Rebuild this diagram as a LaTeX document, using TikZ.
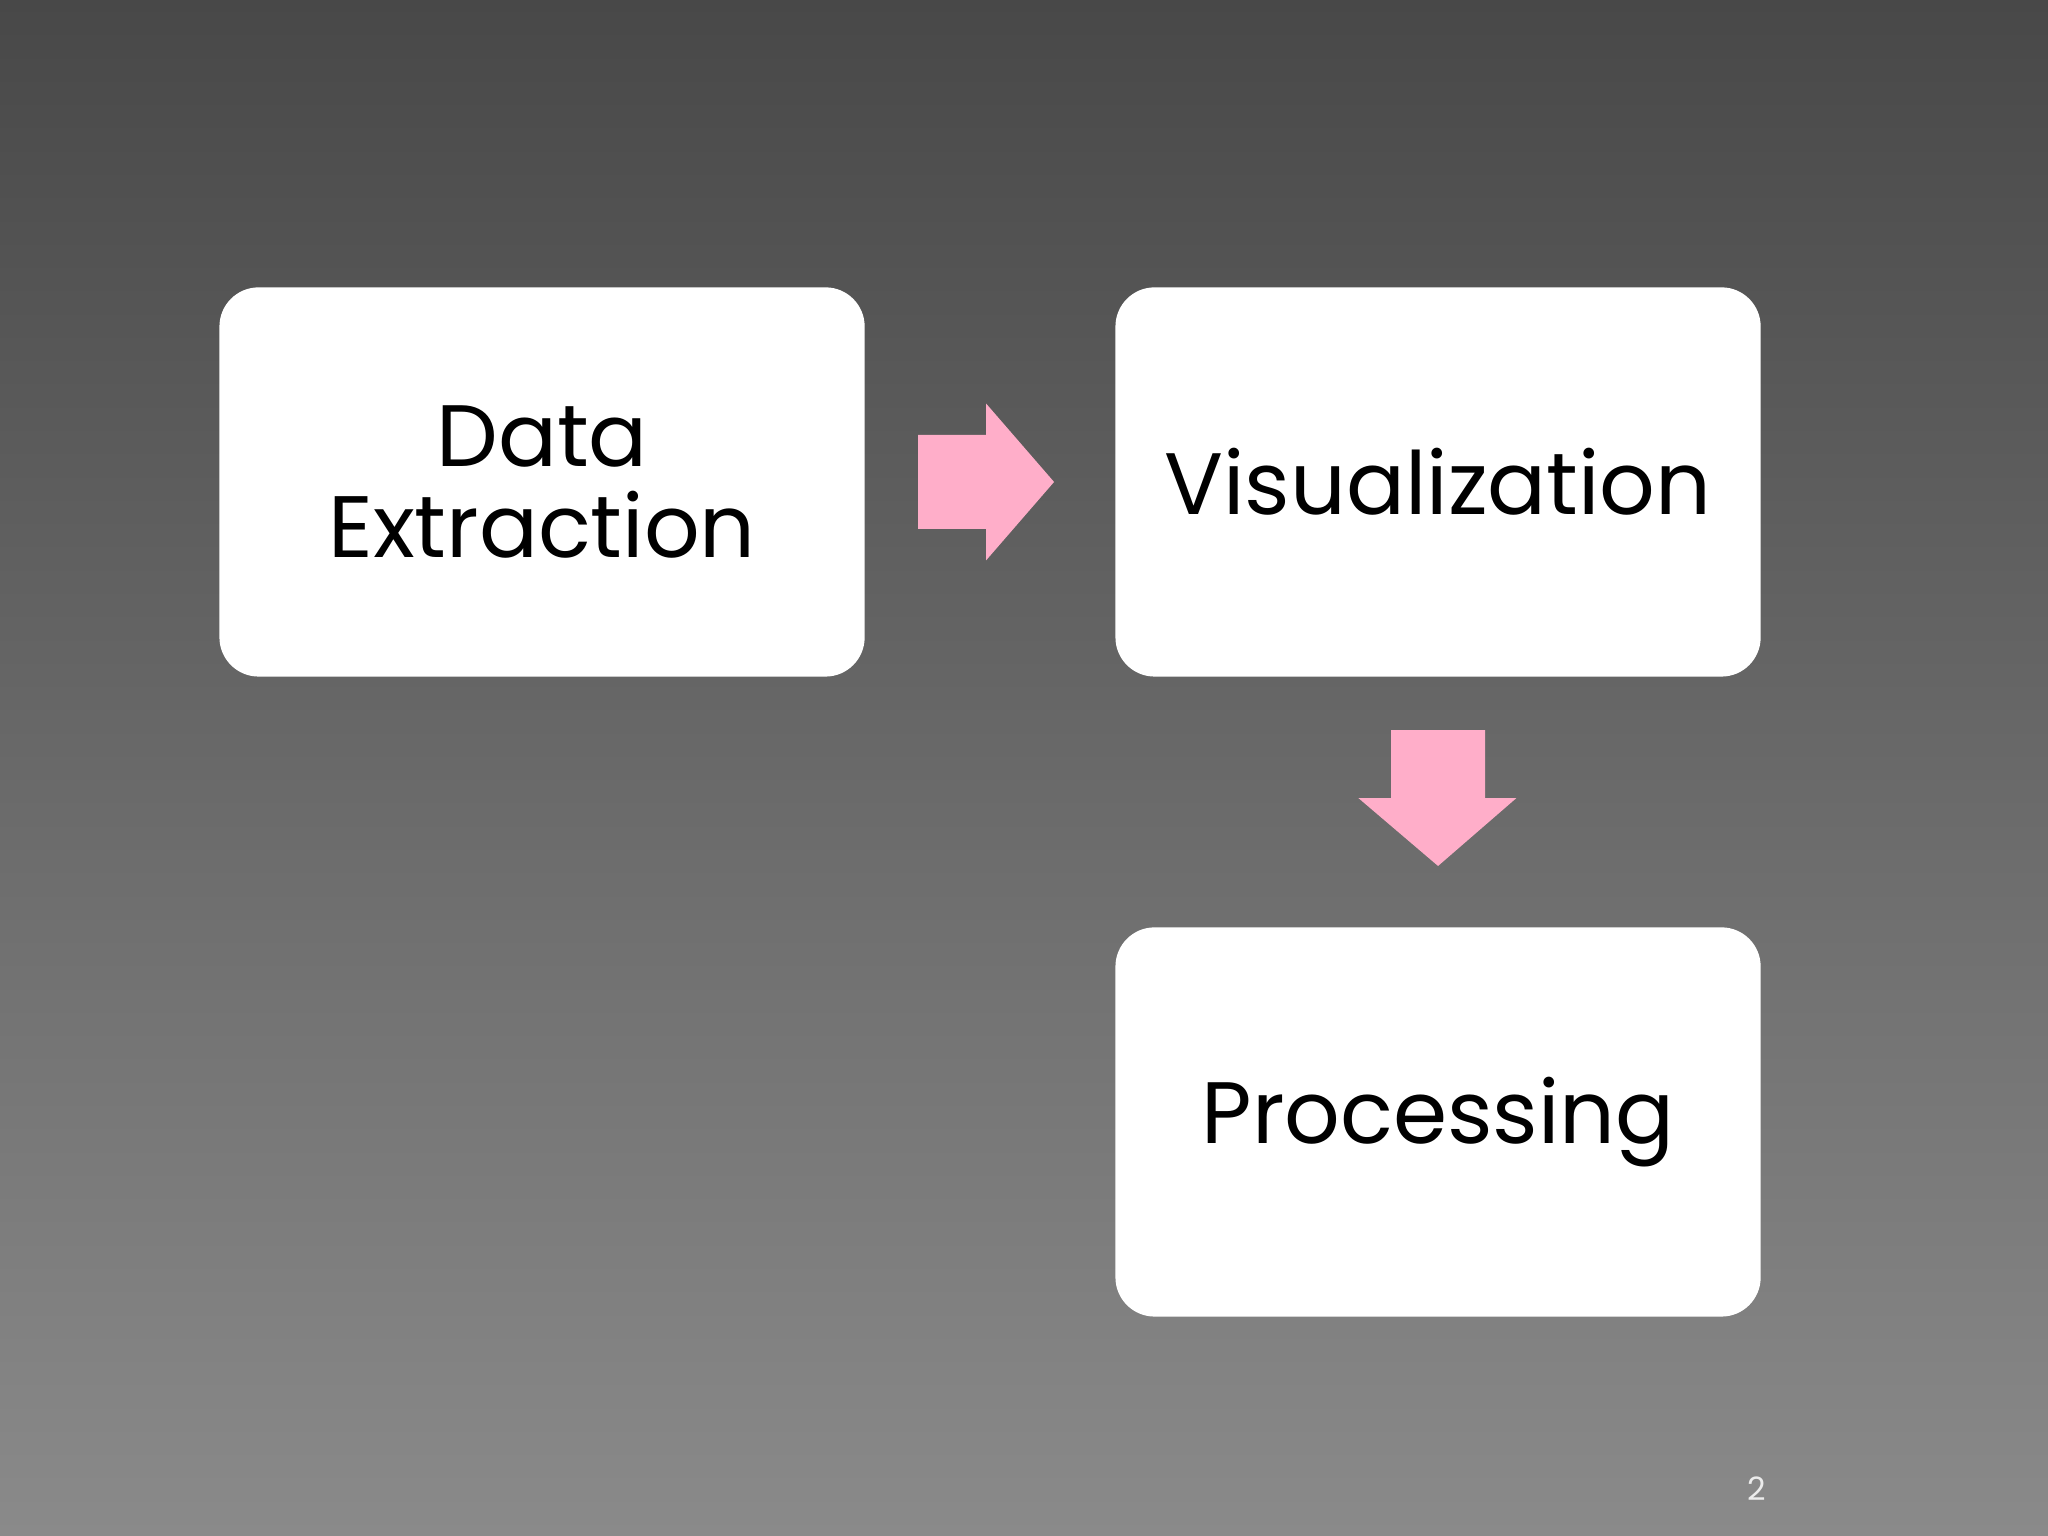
\documentclass[tikz,border=0pt]{standalone}
\usepackage{fontspec}
\setmainfont{Poppins}
\definecolor{pinkar}{HTML}{FFAEC9}
\begin{document}
\begin{tikzpicture}[x=0.02cm,y=-0.02cm,
  box/.style={fill=white,rounded corners=0.6cm,draw=none},
  lbl/.style={font=\fontsize{38}{44}\selectfont,align=center,text=black},
  arr/.style={fill=pinkar,draw=none}]
\shade[top color={rgb,255:red,72;green,72;blue,72},bottom color={rgb,255:red,138;green,138;blue,138}] (0,0) rectangle (1568,1176);
\useasboundingbox (0,0) rectangle (1568,1176);
\fill[box] (168,220) rectangle (662,518);
\fill[box] (854,220) rectangle (1348,518);
\fill[box] (854,710) rectangle (1348,1008);
\node[lbl] (a) at (415,369) {Data\\[-4pt]Extraction};
\node[lbl] (b) at (1101,369) {Visualization};
\node[lbl] (c) at (1101,859) {Processing};
\fill[arr] (703,333) -- (755,333) -- (755,309) -- (807,369) -- (755,429) -- (755,405) -- (703,405) -- cycle;
\fill[arr] (1065,559) -- (1137,559) -- (1137,611) -- (1161,611) -- (1101,663) -- (1040,611) -- (1065,611) -- cycle;
\node[text=white!85!gray,font=\fontsize{14}{16}\selectfont] (p) at (1345,1140) {2};
\end{tikzpicture}
\end{document}
